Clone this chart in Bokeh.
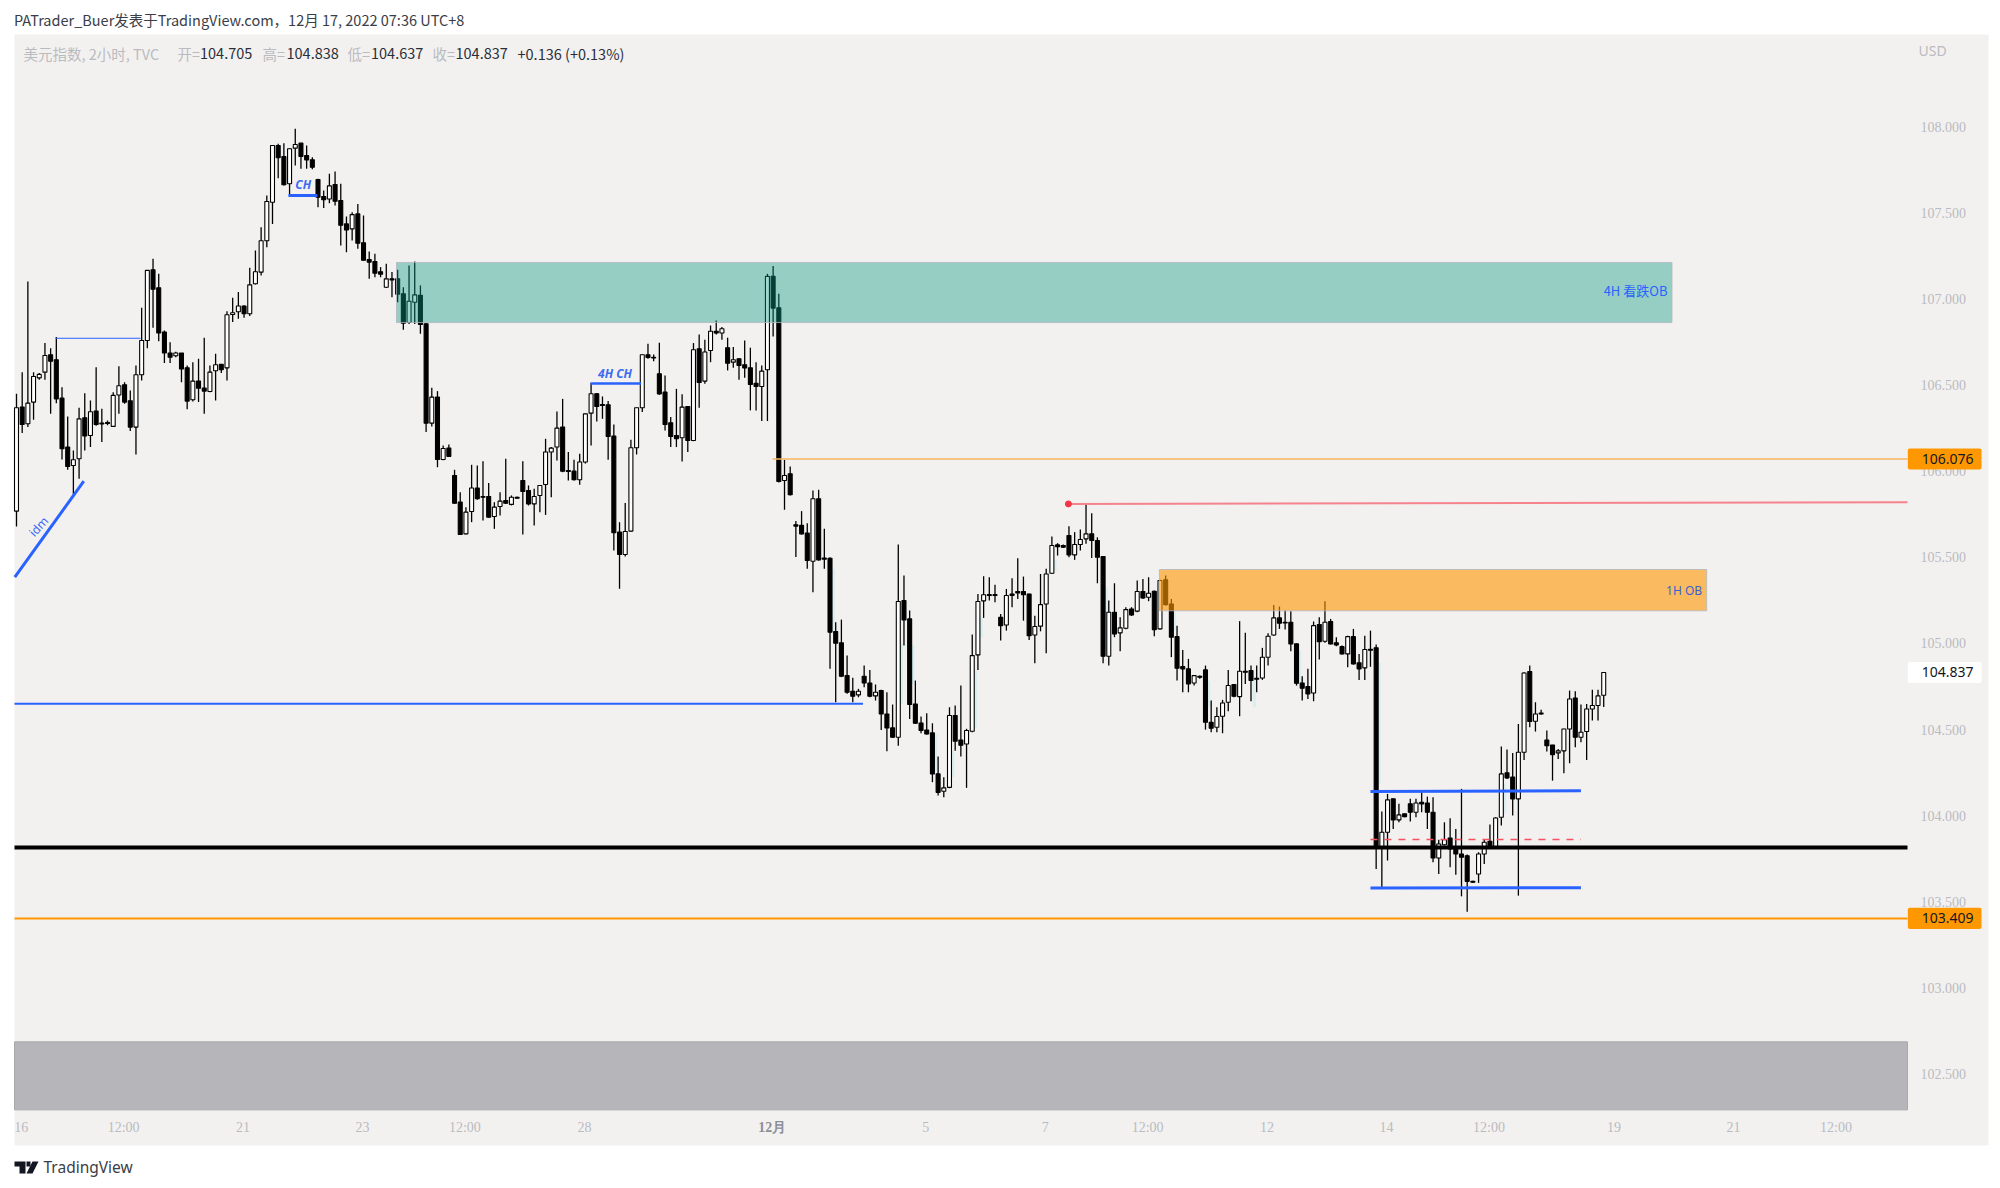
from bokeh.plotting import figure
from bokeh.models import Range1d, Label, BoxAnnotation, PolyAnnotation, ColumnDataSource
from bokeh.embed import file_html
from bokeh.resources import INLINE

opens = [
105.774,106.378,106.281,106.407,106.548,106.581,106.682,106.653,106.430,106.146,
106.039,106.078,106.316,106.213,106.355,106.285,106.289,106.266,106.448,106.508,
106.415,106.262,106.566,106.765,107.176,107.071,106.814,106.692,106.676,106.692,
106.606,106.421,106.529,106.488,106.469,106.589,106.626,106.606,106.916,106.932,
106.965,106.920,107.094,107.162,107.344,107.568,107.897,107.833,107.675,107.882,
107.911,107.839,107.814,107.700,107.601,107.587,107.671,107.578,107.442,107.413,
107.500,107.332,107.235,107.223,107.164,107.074,107.123,107.123,107.036,106.869,
106.987,107.027,106.862,106.285,106.436,106.074,106.140,105.981,105.826,105.642,
105.772,105.908,105.859,105.859,105.743,105.801,105.836,105.813,105.855,105.952,
105.894,105.816,105.865,105.929,106.117,106.146,106.262,106.010,106.006,105.956,
106.059,106.343,106.456,106.393,106.392,106.210,105.652,105.522,105.658,106.142,
106.374,106.682,106.668,106.572,106.465,106.287,106.213,106.200,106.382,106.184,
106.717,106.529,106.707,106.819,106.808,106.723,106.639,106.659,106.624,106.606,
106.517,106.498,106.595,107.137,106.955,105.952,105.991,105.695,105.691,105.646,
105.483,105.846,105.501,105.500,105.075,105.009,104.819,104.728,104.707,104.815,
104.776,104.701,104.732,104.596,104.515,104.461,105.255,105.148,104.654,104.544,
104.503,104.486,104.248,104.147,104.170,104.587,104.445,104.422,104.496,104.939,
105.253,105.289,105.289,105.158,105.113,105.293,105.307,105.307,105.293,105.055,
105.106,105.235,105.413,105.578,105.574,105.632,105.520,105.580,105.613,105.642,
105.603,105.510,104.931,105.187,105.067,105.094,105.206,105.193,105.307,105.274,
105.309,105.090,105.375,105.235,105.045,104.871,104.858,104.776,104.815,104.852,
104.548,104.519,104.583,104.664,104.767,104.697,104.844,104.848,104.803,104.805,
104.925,105.055,105.154,105.129,105.129,105.003,104.776,104.755,104.718,105.115,
105.018,105.133,105.009,104.987,104.945,105.045,104.893,104.864,104.972,104.980,
103.822,103.909,104.103,103.981,104.016,104.074,104.025,104.083,104.079,104.025,
103.760,103.837,103.876,103.812,103.783,103.773,103.624,103.667,103.783,103.857,
103.822,103.996,104.254,104.229,104.103,104.374,104.842,104.554,104.596,104.445,
104.416,104.370,104.382,104.509,104.689,104.461,104.494,104.625,104.645,104.705]
highs = [
106.456,106.581,107.108,106.581,106.576,106.750,106.720,106.785,106.494,106.324,
106.126,106.374,106.459,106.417,106.610,106.368,106.300,106.465,106.616,106.523,
106.475,106.620,106.955,107.172,107.240,107.152,106.823,106.755,106.700,106.692,
106.620,106.639,106.659,106.781,106.620,106.688,106.626,106.934,107.013,107.046,
106.969,107.187,107.287,107.423,107.607,107.900,107.907,107.911,107.880,107.994,
107.911,107.897,107.829,107.704,107.636,107.733,107.746,107.675,107.485,107.510,
107.558,107.491,107.282,107.268,107.191,107.210,107.162,107.176,107.074,107.200,
107.223,107.085,106.866,106.490,106.471,106.155,106.161,106.014,105.884,105.797,
106.043,106.039,106.064,105.937,105.826,105.884,106.078,105.865,105.859,106.064,
105.923,105.904,105.923,106.194,106.146,106.353,106.426,106.117,106.072,106.107,
106.340,106.518,106.460,106.440,106.413,106.277,105.710,105.821,106.188,106.375,
106.684,106.746,106.684,106.752,106.562,106.320,106.484,106.452,106.385,106.750,
106.800,106.769,106.852,106.881,106.843,106.781,106.727,106.660,106.765,106.723,
106.639,106.620,107.152,107.197,107.036,106.072,106.033,105.716,105.774,105.704,
105.894,105.898,105.671,105.506,105.129,105.144,104.935,104.806,104.742,104.877,
104.852,104.767,104.736,104.722,104.651,105.580,105.400,105.197,104.790,104.581,
104.600,104.542,104.349,104.229,104.635,104.645,104.761,104.510,105.057,105.293,
105.396,105.390,105.346,105.177,105.322,105.384,105.500,105.394,105.294,105.167,
105.409,105.439,105.626,105.588,105.580,105.686,105.652,105.667,105.820,105.762,
105.622,105.512,105.255,105.355,105.158,105.216,105.216,105.371,105.380,105.390,
105.313,105.375,105.400,105.264,105.109,104.968,104.916,104.820,104.819,104.877,
104.674,104.635,104.678,104.852,104.770,105.135,105.067,104.877,104.877,104.980,
105.065,105.229,105.220,105.197,105.193,105.005,104.815,104.858,105.133,105.158,
105.251,105.148,105.041,104.993,105.051,105.090,104.945,105.051,105.080,105.000,
104.029,104.132,104.103,104.074,104.016,104.103,104.103,104.141,104.116,104.112,
103.865,103.967,103.990,103.928,104.161,103.780,103.628,103.793,103.870,103.954,
103.996,104.407,104.389,104.370,104.538,104.838,104.877,104.664,104.621,104.500,
104.417,104.393,104.510,104.732,104.728,104.651,104.654,104.736,104.736,104.838]
lows = [
105.685,106.227,106.262,106.305,106.537,106.537,106.339,106.401,106.074,106.014,
105.871,105.962,106.126,106.146,106.270,106.175,106.272,106.266,106.339,106.397,
106.239,106.103,106.533,106.720,106.839,106.761,106.634,106.634,106.668,106.523,
106.365,106.410,106.407,106.339,106.465,106.417,106.576,106.533,106.872,106.891,
106.897,106.907,107.090,107.142,107.307,107.442,107.707,107.665,107.607,107.781,
107.762,107.762,107.760,107.539,107.535,107.562,107.549,107.316,107.278,107.346,
107.297,107.229,107.123,107.132,107.132,107.070,107.016,106.987,106.827,106.860,
106.860,106.804,106.233,106.266,106.029,106.070,106.088,105.816,105.638,105.640,
105.710,105.840,105.720,105.735,105.671,105.749,105.816,105.807,105.846,105.638,
105.807,105.691,105.768,105.752,105.855,106.068,106.000,105.952,105.952,105.927,
106.050,106.155,106.295,106.310,106.072,105.546,105.323,105.510,105.655,106.103,
106.349,106.659,106.645,106.450,106.242,106.146,106.146,106.062,106.117,106.180,
106.374,106.513,106.639,106.800,106.769,106.591,106.606,106.537,106.548,106.359,
106.359,106.297,106.297,106.788,105.940,105.782,105.865,105.507,105.638,105.439,
105.303,105.487,105.439,104.858,104.664,104.810,104.713,104.664,104.693,104.751,
104.693,104.674,104.503,104.380,104.457,104.412,104.993,104.567,104.538,104.484,
104.476,104.200,104.122,104.112,104.165,104.383,104.349,104.167,104.490,104.852,
105.154,105.255,105.245,105.022,105.080,105.216,105.264,105.138,105.026,104.891,
105.076,104.949,105.410,105.516,105.560,105.506,105.491,105.545,105.584,105.502,
105.355,104.891,104.877,105.042,104.960,105.088,105.165,105.187,105.264,105.251,
105.047,105.086,105.226,104.926,104.790,104.722,104.722,104.761,104.800,104.505,
104.490,104.490,104.484,104.612,104.693,104.583,104.770,104.670,104.722,104.794,
104.877,105.050,105.090,105.086,104.960,104.761,104.674,104.683,104.670,104.912,
105.010,105.000,104.989,104.941,104.867,104.883,104.794,104.794,104.870,103.696,
103.590,103.745,103.928,103.967,103.996,103.971,103.996,104.025,103.928,103.735,
103.667,103.832,103.706,103.663,103.537,103.448,103.615,103.615,103.725,103.812,
103.818,103.948,104.219,104.006,103.541,104.329,104.519,104.494,104.592,104.378,
104.209,104.335,104.252,104.310,104.403,104.432,104.329,104.558,104.558,104.637]
closes = [
106.374,106.277,106.401,106.556,106.568,106.678,106.645,106.426,106.136,106.033,
106.072,106.310,106.210,106.351,106.277,106.280,106.283,106.446,106.502,106.407,
106.262,106.566,106.765,107.172,107.063,106.808,106.692,106.668,106.692,106.599,
106.413,106.529,106.488,106.471,106.581,106.624,106.595,106.914,106.926,106.965,
106.920,107.088,107.164,107.344,107.572,107.897,107.826,107.669,107.878,107.903,
107.833,107.814,107.771,107.597,107.582,107.663,107.574,107.434,107.407,107.496,
107.330,107.231,107.220,107.156,107.150,107.123,107.117,107.034,106.865,106.993,
107.030,106.858,106.285,106.436,106.074,106.138,106.092,105.820,105.638,105.768,
105.908,105.846,105.855,105.739,105.797,105.832,105.820,105.855,105.849,105.888,
105.816,105.859,105.923,106.117,106.140,106.256,106.006,106.004,105.956,106.059,
106.339,106.456,106.382,106.388,106.208,105.648,105.522,105.656,106.142,106.374,
106.682,106.666,106.663,106.455,106.277,106.208,106.194,106.378,106.184,106.711,
106.521,106.698,106.819,106.808,106.833,106.633,106.653,106.620,106.605,106.510,
106.498,106.587,107.137,106.953,105.946,105.981,105.869,105.687,105.642,105.487,
105.846,105.491,105.495,105.071,105.007,104.815,104.722,104.699,104.728,104.776,
104.699,104.722,104.596,104.515,104.461,105.249,105.142,104.651,104.542,104.500,
104.480,104.248,104.141,104.167,104.587,104.438,104.414,104.500,104.935,105.249,
105.288,105.284,105.284,105.109,105.284,105.284,105.299,105.288,105.051,105.104,
105.231,105.409,105.574,105.568,105.564,105.520,105.580,105.609,105.642,105.603,
105.506,104.931,105.187,105.061,105.096,105.202,105.171,105.307,105.270,105.297,
105.086,105.371,105.231,105.042,104.862,104.858,104.771,104.819,104.809,104.548,
104.513,104.581,104.660,104.761,104.699,104.844,104.838,104.790,104.798,104.925,
105.047,105.154,105.123,105.125,105.003,104.774,104.745,104.713,105.109,105.016,
105.129,105.003,104.997,104.945,105.045,104.887,104.858,104.970,104.966,103.822,
103.909,104.097,103.981,104.010,104.000,104.025,104.079,104.074,104.025,103.760,
103.841,103.866,103.812,103.783,103.764,103.624,103.619,103.783,103.851,103.818,
103.992,104.248,104.225,104.103,104.374,104.834,104.552,104.596,104.602,104.412,
104.360,104.382,104.509,104.683,104.461,104.490,104.625,104.645,104.701,104.837]

price_ticks = [102.5,103.0,103.5,104.0,104.5,105.0,105.5,106.0,106.5,107.0,107.5,108.0]
time_ticks = [1,19,40,61,79,100,160,181,199,220,241,259,281,302,320]
time_labels = ["16","12:00","21","23","12:00","28","5","7","12:00","12","14","12:00","19","21","12:00"]
month_tick = 133
month_label = "12月"

# light imbalance marks beside large candles: bar, upper price, lower price
mark_bar = [143,155,157,161,164,168,169,182,191,203,209,217,225,239,261]
mark_top = [105.439,105.003,104.993,104.480,104.383,104.848,105.158,105.487,105.332,105.187,104.790,104.810,104.964,104.896,104.190]
mark_low = [105.080,104.654,104.771,104.267,104.229,104.519,105.042,105.429,104.984,105.080,104.635,104.635,104.770,104.190,104.020]

# zones
teal_zone = (66.8, 291.0, 107.218, 106.869)
amber_zone = (200.9, 297.1, 105.435, 105.195)
grey_zone = (-0.35, 332.4, 102.692, 102.297)
# levels
level_orange_hi = 106.076
level_orange_lo = 103.409
level_black = 103.821
last_price = 104.837

X0, X1 = -2.812, 347.34
Y0, Y1 = 101.8868, 108.7393
X_END = 332.4
X_PRICE_TEXT = 334.7    # left edge of the price scale text, in bar units
Y_TIME_TEXT = 102.195   # centre of the time scale text, in price units
BG = "#f3f1f0"; GREY = "#b9bbc0"; BLUE = "#2962ff"; DARK = "#2a2e39"
AF = "Noto Sans"; CJK = "Noto Sans CJK SC"

p = figure(width=1992, height=1180, output_backend="svg", toolbar_location=None,
           x_range=Range1d(X0, X1), y_range=Range1d(Y0, Y1),
           x_axis_location=None, y_axis_location=None,
           min_border_left=0, min_border_right=0, min_border_top=0, min_border_bottom=0)
p.grid.visible = False
p.outline_line_color = None
p.border_fill_color = "white"
p.background_fill_color = "white"

p.add_layout(BoxAnnotation(left=14, right=1988, top=34, bottom=1145, left_units="canvas", right_units="canvas",
                           top_units="canvas", bottom_units="canvas", fill_color=BG, fill_alpha=1,
                           line_color=None, level="underlay"))

p.text(x=[X_PRICE_TEXT] * len(price_ticks), y=price_ticks, text=[f"{v:.3f}" for v in price_ticks],
       text_font=AF, text_font_size="14px", text_color=GREY, text_baseline="middle", text_align="left", y_offset=-1)
p.text(x=time_ticks, y=[Y_TIME_TEXT] * len(time_ticks), text=time_labels, x_offset=-1,
       text_font=AF, text_font_size="14px", text_color=GREY, text_baseline="middle", text_align="center")
p.text(x=[month_tick], y=[Y_TIME_TEXT], text=[month_label], x_offset=-1,
       text_font=CJK, text_font_size="14px", text_color="#8b8e96", text_font_style="bold",
       text_baseline="middle", text_align="center")

n = len(closes)
bars = list(range(n))
up = [c >= o for o, c in zip(opens, closes)]
src = ColumnDataSource(dict(x=bars, h=highs, l=lows,
                            t=[max(o, c) for o, c in zip(opens, closes)],
                            b=[min(o, c) for o, c in zip(opens, closes)],
                            col=["#ffffff" if u else "#000000" for u in up]))

p.quad(left=[b + 0.3 for b in mark_bar], right=[b + 0.85 for b in mark_bar], top=mark_top, bottom=mark_low,
       fill_color="#d3ecef", fill_alpha=0.8, line_color=None)
p.segment("x", "h", "x", "l", source=src, line_color="#000000", line_width=1.3)
p.vbar(x="x", top="t", bottom="b", width=0.7, source=src, fill_color="col", line_color="#000000", line_width=1.1)

# zones over candles
l, r, t, b = teal_zone
p.quad(left=[l], right=[r], top=[t], bottom=[b], fill_color="#0a9b83", fill_alpha=0.4,
       line_color="#b2b5be", line_alpha=0.8, line_width=1)
l, r, t, b = amber_zone
p.quad(left=[l], right=[r], top=[t], bottom=[b], fill_color="#ff9800", fill_alpha=0.6,
       line_color="#b2b5be", line_alpha=0.8, line_width=1)
l, r, t, b = grey_zone
p.quad(left=[l], right=[r], top=[t], bottom=[b], fill_color="#b6b5b9", line_color="#a9a9ad", line_width=1)

# lines
p.line([-0.35, X_END], [level_black] * 2, line_color="#000000", line_width=4)
p.line([-0.35, X_END], [level_orange_lo] * 2, line_color="#ff9800", line_width=2)
p.line([132.9, X_END], [level_orange_hi] * 2, line_color="#f7b65c", line_width=1.5)
p.line([184.9, X_END], [105.816, 105.826], line_color="#f5838d", line_width=2)
p.scatter([184.9], [105.816], size=6, color="#f23645")
p.line([6.9, 21.8], [106.778, 106.778], line_color=BLUE, line_width=1.2)
p.line([-0.3, 11.83], [105.390, 105.948], line_color=BLUE, line_width=3)
p.line([47.8, 52.9], [107.607, 107.607], line_color=BLUE, line_width=3)
p.line([100.9, 109.8], [106.515, 106.515], line_color=BLUE, line_width=2.5)
p.line([-0.35, 148.8], [104.655, 104.655], line_color=BLUE, line_width=2)
p.line([238.0, 275.0], [104.146, 104.150], line_color=BLUE, line_width=3)
p.line([238.0, 275.0], [103.585, 103.587], line_color=BLUE, line_width=3)
p.line([238.0, 275.0], [103.867, 103.867], line_color="#f7525f", line_width=1.5, line_dash=[7, 7])

def text(s, x, y, xu="canvas", yu="canvas", font=CJK, size=13, color=GREY, align="left", style="normal", angle=0):
    p.add_layout(Label(x=x, y=y, x_units=xu, y_units=yu, text=s, text_font=font, text_font_size=f"{size}px",
                       text_color=color, text_align=align, text_baseline="middle", text_font_style=style,
                       angle=angle, angle_units="deg"))

# chart annotations in data space
text("idm", 3.87, 105.685, "data", "data", AF, 12, "#3d6cf0", "center", "normal", 47)
text("CH", 50.4, 107.67, "data", "data", AF, 12, "#3d6cf0", "center", "bold italic")
text("4H CH", 105.2, 106.575, "data", "data", AF, 12, "#3d6cf0", "center", "bold italic")
text("4H 看跌OB", 290.2, 107.055, "data", "data", CJK, 13, BLUE, "right")
text("1H OB", 296.3, 105.315, "data", "data", AF, 12, "#3b5fd0", "right")

# price tags
for price, fill, ink in ((level_orange_hi, "#ff9800", "#131722"), (level_orange_lo, "#ff9800", "#131722"),
                         (last_price, "#ffffff", "#131722")):
    p.add_layout(BoxAnnotation(left=1907.3, right=1981, top=price + 0.061, bottom=price - 0.061,
                               left_units="canvas", right_units="canvas", top_units="data", bottom_units="data",
                               fill_color=fill, fill_alpha=1, line_color=None, border_radius=2))
    text(f"{price:.3f}", 1973, price, "canvas", "data", AF, 14, ink, "right")
text("USD", 1918, 50, font=AF, size=14)

# header
text("PATrader_Buer发表于TradingView.com，12月 17, 2022 07:36 UTC+8", 13.4, 19, size=14.5, color="#3a3e48")
head = [("美元指数, 2小时, TVC", 23, GREY), ("开=", 177, GREY), ("104.705", 199.5, DARK), ("高=", 262, GREY),
        ("104.838", 286, DARK), ("低=", 347, GREY), ("104.637", 370.5, DARK), ("收=", 432, GREY),
        ("104.837", 455, DARK), ("+0.136 (+0.13%)", 517, DARK)]
for s, x, c in head:
    text(s, x, 53, size=14.5, color=c)

# footer
text("TradingView", 43, 1166.7, font=AF, size=15.5, color="#3a3e48")
p.add_layout(PolyAnnotation(xs=[14, 25, 25, 19, 19, 14], ys=[1161, 1161, 1173, 1173, 1166, 1166],
                            xs_units="canvas", ys_units="canvas", fill_color="#131722", fill_alpha=1, line_color=None))
p.add_layout(PolyAnnotation(xs=[32, 38, 32, 26], ys=[1161, 1161, 1173, 1173],
                            xs_units="canvas", ys_units="canvas", fill_color="#131722", fill_alpha=1, line_color=None))
p.add_layout(PolyAnnotation(xs=[26, 30, 30, 26], ys=[1161, 1161, 1166, 1166],
                            xs_units="canvas", ys_units="canvas", fill_color="#131722", fill_alpha=1, line_color=None))

open("out.html", "w").write(file_html(p, INLINE))
